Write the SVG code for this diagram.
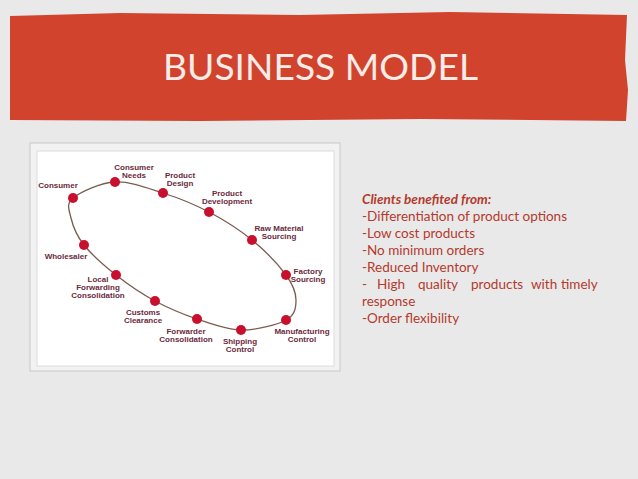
<svg xmlns="http://www.w3.org/2000/svg" width="638" height="479" viewBox="0 0 638 479">
<style>
.lbl{font-family:"Liberation Sans",Arial,sans-serif;font-weight:bold;font-size:8px;fill:#6b2a3c;text-anchor:middle}
.dot{fill:#c8102e}
.tx{font-family:"Lato","Liberation Sans",sans-serif;font-size:13.5px;fill:#b43a2c}
</style>
<rect width="638" height="479" fill="#e9e9ea"/>
<path d="M10 16 L120 13 L300 15 L450 12 L627 15 L625 60 L628 90 L626 121 L420 119 L200 121 L10 120 Z" fill="#d2432d"/>
<text x="163" y="80" font-family="Lato,'Liberation Sans',sans-serif" font-size="36" fill="#f6ece8" textLength="315" lengthAdjust="spacingAndGlyphs">BUSINESS MODEL</text>
<g id="panel">
<rect x="30" y="143" width="310" height="228" fill="#f2f2f2" stroke="#c8c8c8"/>
<rect x="37" y="151" width="297" height="215" fill="#ffffff" stroke="#dcdcdc"/>
</g>
<g id="connectors">
<path fill="none" stroke="#7a5c4e" stroke-width="1.3" d="M73 198 C80.3 192 100 182.8 115 182 C130 181.2 147.3 188 163 193 C178.7 198 194.2 204.2 209 212 C223.8 219.8 239.2 229.5 252 240 C264.8 250.5 278.7 265 286 275 C293.3 285 296 292.5 296 300 C296 307.5 295.2 315 286 320 C276.8 325 255.8 330.2 241 330 C226.2 329.8 211.3 323.8 197 319 C182.7 314.2 168.5 308.3 155 301 C141.5 293.7 127.8 284.3 116 275 C104.2 265.7 91.5 254.5 84 245 C76.5 235.5 72.8 225.8 71 218 C69.2 210.2 65.7 204 73 198 Z"/>
</g>
<g id="n1"><circle class="dot" cx="73" cy="198" r="5"/><text class="lbl" x="58" y="188">Consumer</text></g>
<g id="n2"><circle class="dot" cx="115" cy="182" r="5"/><text class="lbl" x="134" y="170">Consumer</text><text class="lbl" x="134" y="178">Needs</text></g>
<g id="n3"><circle class="dot" cx="163" cy="193" r="5"/><text class="lbl" x="180" y="178">Product</text><text class="lbl" x="180" y="186">Design</text></g>
<g id="n4"><circle class="dot" cx="209" cy="212" r="5"/><text class="lbl" x="227" y="196">Product</text><text class="lbl" x="227" y="204">Development</text></g>
<g id="n5"><circle class="dot" cx="252" cy="240" r="5"/><text class="lbl" x="279" y="231">Raw Material</text><text class="lbl" x="279" y="239">Sourcing</text></g>
<g id="n6"><circle class="dot" cx="286" cy="275" r="5"/><text class="lbl" x="308" y="274">Factory</text><text class="lbl" x="308" y="282">Sourcing</text></g>
<g id="n7"><circle class="dot" cx="286" cy="320" r="5"/><text class="lbl" x="302" y="334">Manufacturing</text><text class="lbl" x="302" y="342">Control</text></g>
<g id="n8"><circle class="dot" cx="241" cy="330" r="5"/><text class="lbl" x="240" y="344">Shipping</text><text class="lbl" x="240" y="352">Control</text></g>
<g id="n9"><circle class="dot" cx="197" cy="319" r="5"/><text class="lbl" x="186" y="334">Forwarder</text><text class="lbl" x="186" y="342">Consolidation</text></g>
<g id="n10"><circle class="dot" cx="155" cy="301" r="5"/><text class="lbl" x="143" y="315">Customs</text><text class="lbl" x="143" y="323">Clearance</text></g>
<g id="n11"><circle class="dot" cx="116" cy="275" r="5"/><text class="lbl" x="98" y="282">Local</text><text class="lbl" x="98" y="290">Forwarding</text><text class="lbl" x="98" y="298">Consolidation</text></g>
<g id="n12"><circle class="dot" cx="84" cy="245" r="5"/><text class="lbl" x="66" y="259">Wholesaler</text></g>
<g id="text">
<text class="tx" x="362" y="204" font-style="italic" font-weight="bold">Clients benefited from:</text>
<text class="tx" x="362" y="221">-Differentiation of product options</text>
<text class="tx" x="362" y="238">-Low cost products</text>
<text class="tx" x="362" y="255">-No minimum orders</text>
<text class="tx" x="362" y="272">-Reduced Inventory</text>
<text class="tx" y="289"><tspan x="362">-</tspan><tspan x="377">High</tspan><tspan x="418">quality</tspan><tspan x="471">products</tspan><tspan x="531">with</tspan><tspan x="561">timely</tspan></text>
<text class="tx" x="362" y="306">response</text>
<text class="tx" x="362" y="323">-Order flexibility</text>
</g>
</svg>
